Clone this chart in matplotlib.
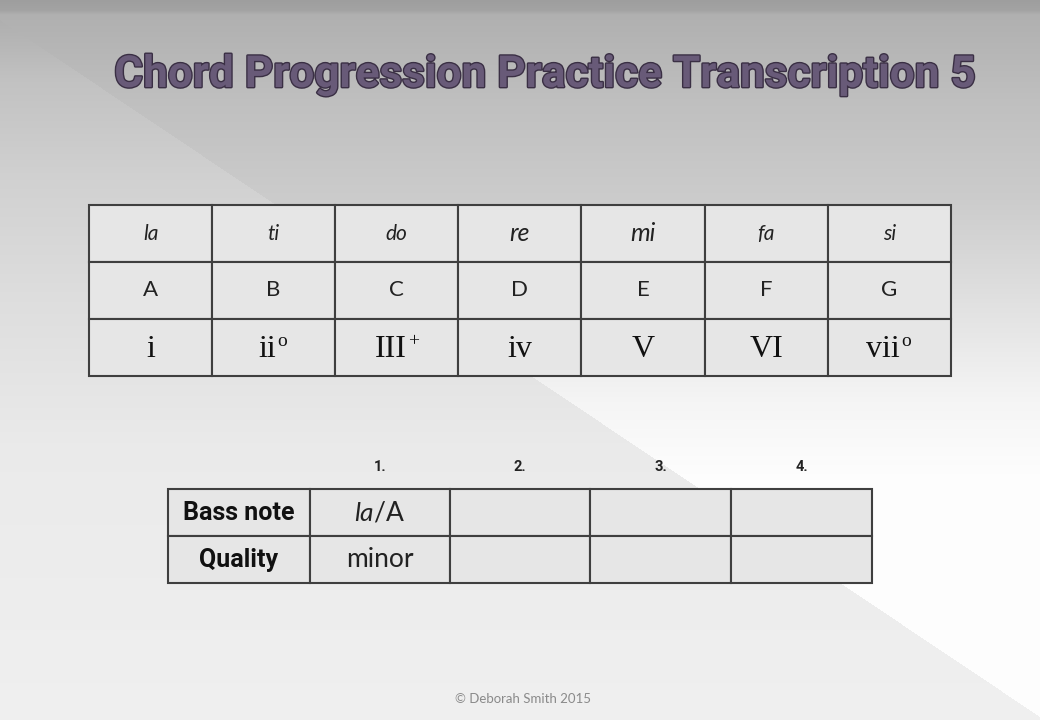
import numpy as np
import matplotlib.pyplot as plt
import matplotlib.patheffects as pe
from matplotlib.patches import Rectangle
from matplotlib import font_manager

# Datos de las tablas
solfege = ['la', 'ti', 'do', 're', 'mi', 'fa', 'si']
letters = ['A', 'B', 'C', 'D', 'E', 'F', 'G']
numerals = ['i', 'ii', 'III', 'iv', 'V', 'VI', 'vii']
numeral_marks = ['', 'o', '+', '', '', '', 'o']

step_labels = ['1.', '2.', '3.', '4.']
row_labels = ['Bass note', 'Quality']
bass_notes = ['$\\it{la}$/A', '', '', '']
qualities = ['minor', '', '', '']

title = 'Chord Progression Practice Transcription 5'
footer = '\u00a9 Deborah Smith 2015'

# Fuentes disponibles
installed = {f.name for f in font_manager.fontManager.ttflist}
SANS = 'Lato' if 'Lato' in installed else 'DejaVu Sans'
NARROW = 'Liberation Sans Narrow' if 'Liberation Sans Narrow' in installed else 'Roboto'
SERIF = 'Liberation Serif'

plt.rcParams['mathtext.fontset'] = 'custom'
plt.rcParams['mathtext.rm'] = SERIF
plt.rcParams['mathtext.it'] = SANS + ':italic'

fig = plt.figure(figsize=(10.4, 7.2), dpi=100)
ax = fig.add_axes([0, 0, 1, 1])
ax.set_xlim(0, 1040)
ax.set_ylim(720, 0)
ax.axis('off')

# Fondo degradado con diagonal
yy, xx = np.mgrid[0:720, 0:1040]
diag = 20 + 0.67 * xx
upper = np.interp(yy, [0, 10, 14, 100, 200, 300, 400, 480],
                  [0.62, 0.64, 0.69, 0.75, 0.80, 0.88, 0.96, 0.995])
lower = np.interp(yy, [0, 10, 14, 80, 180, 300, 450, 720],
                  [0.62, 0.64, 0.68, 0.76, 0.82, 0.87, 0.92, 0.94])
bg = np.where(yy < diag, upper, lower)
ax.imshow(np.dstack([bg, bg, bg]), extent=(0, 1040, 720, 0), aspect='auto', zorder=0)

# Titulo
t = ax.text(545, 75, title, ha='center', va='center', fontsize=35, fontweight='bold',
            family=NARROW, color='#685a78', zorder=3,
            path_effects=[pe.Stroke(linewidth=2, foreground='#3a2f44'), pe.Normal()])
fig.canvas.draw()
w = t.get_window_extent().width
t.set_fontsize(35 * 862 / w)

cell_face = '#e6e6e6'
edge = '#3f3f3f'

# Tabla 1
x0, y0, cw, rh = 89, 205, 123.1, 57
for j in range(7):
    cx = x0 + cw * (j + 0.5)
    for i in range(3):
        ax.add_patch(Rectangle((x0 + cw * j, y0 + rh * i), cw, rh, facecolor=cell_face,
                               edgecolor=edge, lw=1.5, zorder=2))
    big = solfege[j] in ('re', 'mi')
    ax.text(cx, y0 + rh * 0.5, solfege[j], ha='center', va='center', family=SANS,
            style='italic', fontsize=18 if big else 15, color='#222222', zorder=3)
    ax.text(cx, y0 + rh * 1.5, letters[j], ha='center', va='center', family=SANS,
            fontsize=16, color='#222222', zorder=3)
    shift = 6 if numeral_marks[j] else 0
    base = ax.text(cx - shift, y0 + rh * 2.5 + 2, numerals[j], ha='center', va='center',
                   family=SERIF, fontsize=23, color='#111111', zorder=3)
    if numeral_marks[j]:
        ax.annotate(numeral_marks[j], xy=(1.0, 0.62), xycoords=base, xytext=(0.8, 0),
                    textcoords='offset points', ha='left', va='baseline', family=SERIF,
                    fontsize=14, color='#111111', zorder=3)

# Tabla 2
x1, y1, rh2 = 168, 489, 47
widths = [142, 140, 140, 141, 141]
edges_x = np.concatenate([[x1], x1 + np.cumsum(widths)])
for j in range(5):
    for i in range(2):
        ax.add_patch(Rectangle((edges_x[j], y1 + rh2 * i), widths[j], rh2, facecolor=cell_face,
                               edgecolor=edge, lw=1.5, zorder=2))
for i, lab in enumerate(row_labels):
    ax.text((edges_x[0] + edges_x[1]) / 2, y1 + rh2 * (i + 0.5), lab, ha='center', va='center',
            family=NARROW, fontweight='bold', fontsize=18, color='#111111', zorder=3)
for j in range(4):
    cx = (edges_x[j + 1] + edges_x[j + 2]) / 2
    ax.text(cx, 467, step_labels[j], ha='center', va='center', family=NARROW,
            fontweight='bold', fontsize=10.5, color='#222222', zorder=3)
    ax.text(cx, y1 + rh2 * 0.5, bass_notes[j], ha='center', va='center', family=SANS,
            fontsize=19, color='#222222', zorder=3)
    ax.text(cx, y1 + rh2 * 1.5, qualities[j], ha='center', va='center', family=SANS,
            fontsize=19, color='#222222', zorder=3)

# Pie
ax.text(523, 699, footer, ha='center', va='center', family=SANS, fontsize=9.5,
        color='#8a8a8a', zorder=3)

plt.savefig('out.png', dpi=100)
